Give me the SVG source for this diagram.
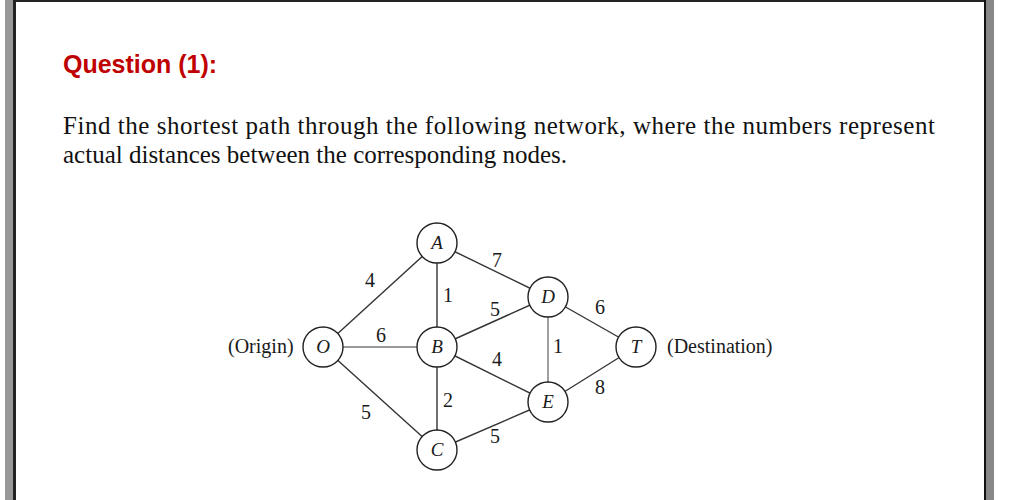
<svg xmlns="http://www.w3.org/2000/svg" width="1019" height="500" viewBox="0 0 1019 500">
<style>
.n circle{fill:#fff;stroke:#222;stroke-width:1.4}
.n text,.lab{font-family:"Liberation Serif",serif;font-size:20px;fill:#1a1a1a}
.n text{font-style:italic;text-anchor:middle;font-size:19px}
.num text{text-anchor:middle}
#edges line{stroke:#333;stroke-width:1.4}
</style>
<rect x="0" y="0" width="1019" height="500" fill="#fff"/>
<rect x="5" y="0" width="8" height="500" fill="#999"/>
<rect x="986" y="0" width="8" height="500" fill="#888"/>
<line x1="14" y1="1" x2="985" y2="1" stroke="#222" stroke-width="2"/>
<line x1="14.5" y1="0" x2="14.5" y2="500" stroke="#222" stroke-width="3"/>
<line x1="985" y1="0" x2="985" y2="500" stroke="#111" stroke-width="2"/>
<text x="63" y="73" font-family="Liberation Sans,sans-serif" font-weight="bold" font-size="25" fill="#c00000">Question (1):</text>
<text font-family="Liberation Serif,serif" font-size="25" fill="#111" x="63" y="134" textLength="872" lengthAdjust="spacing">Find the shortest path through the following network, where the numbers represent</text>
<text font-family="Liberation Serif,serif" font-size="25" fill="#111" x="63" y="163">actual distances between the corresponding nodes.</text>
<g id="edges">
<line x1="323" y1="347" x2="437" y2="243"/>
<line x1="323" y1="347" x2="437" y2="347" style="stroke:#999;stroke-width:2"/>
<line x1="323" y1="347" x2="437" y2="450"/>
<line x1="437" y1="243" x2="437" y2="450"/>
<line x1="437" y1="243" x2="548" y2="297"/>
<line x1="437" y1="347" x2="548" y2="297"/>
<line x1="437" y1="347" x2="548" y2="402"/>
<line x1="437" y1="450" x2="548" y2="402"/>
<line x1="548" y1="297" x2="548" y2="402" style="stroke:#777"/>
<line x1="548" y1="297" x2="636" y2="347"/>
<line x1="548" y1="402" x2="636" y2="347"/>
</g>
<g class="lab num">
<text x="370" y="287">4</text><text x="381" y="342">6</text><text x="366" y="419">5</text>
<text x="448" y="302">1</text><text x="448" y="407">2</text>
<text x="497" y="267">7</text><text x="495" y="316">5</text><text x="497" y="366">4</text><text x="495" y="443">5</text>
<text x="558" y="353">1</text><text x="600" y="314">6</text><text x="600" y="394">8</text>
</g>
<g class="lab">
<text x="228" y="353">(Origin)</text><text x="667" y="353">(Destination)</text>
</g>
<g id="nO" class="n"><circle cx="323" cy="347" r="20"/><text x="323" y="353">O</text></g>
<g id="nA" class="n"><circle cx="437" cy="243" r="20"/><text x="437" y="249">A</text></g>
<g id="nB" class="n"><circle cx="437" cy="347" r="20"/><text x="437" y="353">B</text></g>
<g id="nC" class="n"><circle cx="437" cy="450" r="20"/><text x="437" y="456">C</text></g>
<g id="nD" class="n"><circle cx="548" cy="297" r="20"/><text x="548" y="303">D</text></g>
<g id="nE" class="n"><circle cx="548" cy="402" r="20"/><text x="548" y="408">E</text></g>
<g id="nT" class="n"><circle cx="636" cy="347" r="20"/><text x="636" y="353">T</text></g>
</svg>
